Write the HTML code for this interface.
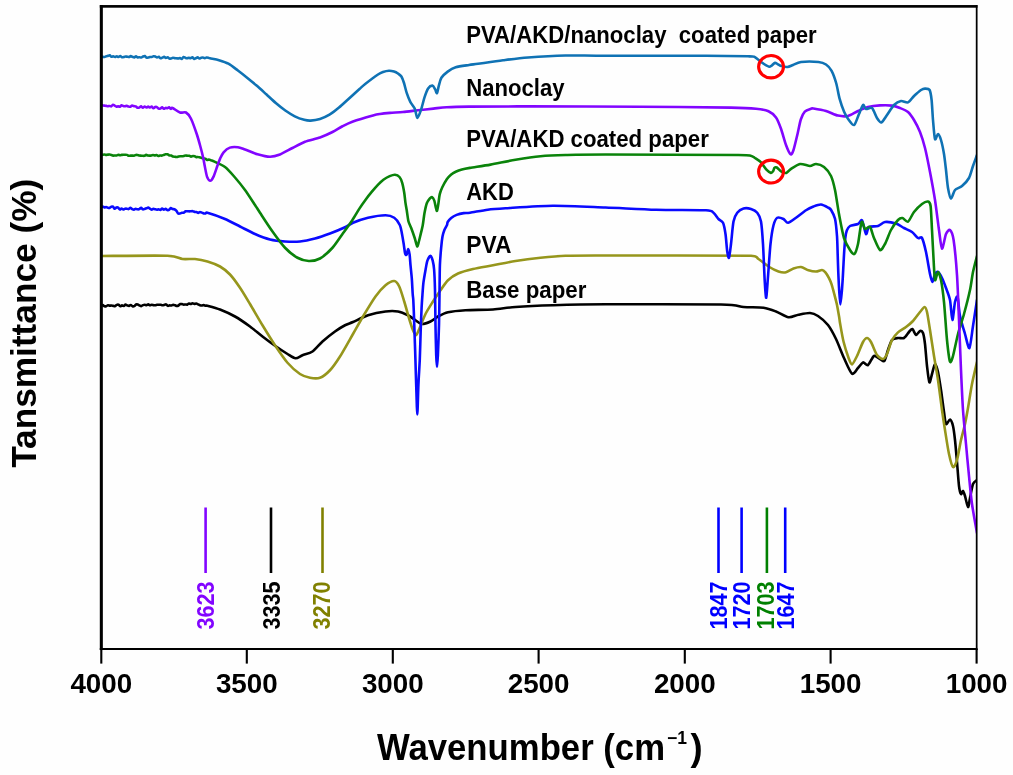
<!DOCTYPE html>
<html><head><meta charset="utf-8"><title>FTIR spectra</title>
<style>
html,body{margin:0;padding:0;background:#fefefe;}
svg{display:block;font-family:"Liberation Sans",Arial,sans-serif;font-weight:bold;}
</style></head><body>
<svg width="1013" height="775" viewBox="0 0 1013 775">
<rect width="1013" height="775" fill="#fefefe"/>
<defs><clipPath id="pc"><rect x="101.3" y="6.5" width="875.1" height="642.5"/></clipPath></defs>
<g clip-path="url(#pc)" fill="none" stroke-width="2.6" stroke-linejoin="round" stroke-linecap="round">
<path d="M101.00,305.75C101.23,305.66 102.28,305.00 102.75,305.07C103.22,305.15 104.03,306.19 104.50,306.34C104.97,306.49 105.78,306.32 106.25,306.17C106.72,306.02 107.53,305.31 108.00,305.24C108.47,305.17 109.28,305.61 109.75,305.65C110.22,305.69 111.03,305.52 111.50,305.55C111.97,305.58 112.78,305.82 113.25,305.90C113.72,305.97 114.53,306.27 115.00,306.13C115.47,305.99 116.28,305.05 116.75,304.86C117.22,304.67 118.03,304.55 118.50,304.72C118.97,304.90 119.78,306.07 120.25,306.16C120.72,306.25 121.53,305.44 122.00,305.41C122.47,305.39 123.28,306.10 123.75,305.99C124.22,305.88 125.03,304.68 125.50,304.60C125.97,304.52 126.78,305.22 127.25,305.38C127.72,305.55 128.53,305.92 129.00,305.86C129.47,305.81 130.28,304.91 130.75,304.96C131.22,305.01 132.03,306.07 132.50,306.23C132.97,306.39 133.78,306.36 134.25,306.13C134.72,305.91 135.53,304.76 136.00,304.55C136.47,304.33 137.28,304.40 137.75,304.52C138.22,304.64 139.03,305.22 139.50,305.43C139.97,305.65 140.78,306.17 141.25,306.13C141.72,306.09 142.53,305.29 143.00,305.11C143.47,304.93 144.28,304.79 144.75,304.79C145.22,304.80 146.03,305.20 146.50,305.15C146.97,305.10 147.78,304.41 148.25,304.42C148.72,304.43 149.53,305.21 150.00,305.25C150.47,305.29 151.31,304.76 151.79,304.75C152.26,304.73 153.10,305.07 153.57,305.14C154.05,305.20 154.88,305.29 155.36,305.24C155.83,305.19 156.67,304.83 157.14,304.77C157.62,304.71 158.45,304.77 158.93,304.77C159.40,304.76 160.24,304.69 160.71,304.74C161.19,304.80 162.02,305.16 162.50,305.18C162.98,305.19 163.81,304.98 164.29,304.87C164.76,304.77 165.60,304.26 166.07,304.39C166.55,304.52 167.38,305.73 167.86,305.86C168.33,305.99 169.17,305.40 169.64,305.35C170.12,305.30 170.95,305.60 171.43,305.51C171.90,305.42 172.74,304.72 173.21,304.68C173.69,304.65 174.53,305.08 175.00,305.25C175.47,305.42 176.28,305.90 176.75,305.94C177.22,305.97 178.03,305.76 178.50,305.50C178.97,305.24 179.78,304.15 180.25,303.97C180.72,303.79 181.53,304.06 182.00,304.15C182.47,304.24 183.28,304.61 183.75,304.65C184.22,304.69 185.03,304.43 185.50,304.43C185.97,304.43 186.78,304.76 187.25,304.64C187.72,304.51 188.53,303.59 189.00,303.51C189.47,303.43 190.28,304.08 190.75,304.04C191.22,304.01 192.02,303.27 192.50,303.25C192.98,303.23 193.88,303.83 194.38,303.87C194.88,303.91 195.75,303.46 196.25,303.52C196.75,303.58 197.62,304.12 198.12,304.35C198.62,304.57 199.50,305.04 200.00,305.19C200.50,305.33 201.38,305.44 201.88,305.44C202.38,305.43 203.25,305.11 203.75,305.13C204.25,305.16 205.12,305.52 205.62,305.60C206.12,305.68 205.62,305.23 207.50,305.75C209.42,306.27 216.33,308.07 220.00,309.50C223.67,310.93 231.00,314.23 235.00,316.50C239.00,318.77 246.33,323.83 250.00,326.50C253.67,329.17 259.17,333.93 262.50,336.50C265.83,339.07 271.67,343.42 275.00,345.75C278.33,348.08 284.77,352.33 287.50,354.00C290.23,355.67 293.50,358.08 295.50,358.25C297.50,358.42 300.23,356.15 302.50,355.25C304.77,354.35 309.83,353.33 312.50,351.50C315.17,349.67 319.50,344.17 322.50,341.50C325.50,338.83 332.00,333.67 335.00,331.50C338.00,329.33 342.60,326.52 345.00,325.25C347.40,323.98 349.93,323.33 353.00,322.00C356.07,320.67 363.67,316.65 368.00,315.25C372.33,313.85 381.50,312.00 385.50,311.50C389.50,311.00 395.00,311.00 398.00,311.50C401.00,312.00 405.67,314.08 408.00,315.25C410.33,316.42 413.67,319.08 415.50,320.25C417.33,321.42 419.75,323.83 421.75,324.00C423.75,324.17 428.33,322.50 430.50,321.50C432.67,320.50 435.67,317.73 438.00,316.50C440.33,315.27 444.33,313.08 448.00,312.25C451.67,311.42 459.50,310.62 465.50,310.25C471.50,309.88 486.33,309.93 493.00,309.50C499.67,309.07 507.50,307.57 515.50,307.00C523.50,306.43 541.00,305.62 553.00,305.25C565.00,304.88 583.10,304.35 605.50,304.25C627.90,304.15 702.60,304.13 721.00,304.50C739.40,304.87 737.83,306.57 743.50,307.00C749.17,307.43 759.17,307.15 763.50,307.75C767.83,308.35 772.67,310.23 776.00,311.50C779.33,312.77 785.50,316.82 788.50,317.25C791.50,317.68 795.63,315.32 798.50,314.75C801.37,314.18 807.40,312.83 810.00,313.00C812.60,313.17 815.60,314.40 818.00,316.00C820.40,317.60 825.60,321.93 828.00,325.00C830.40,328.07 833.87,334.60 836.00,339.00C838.13,343.40 841.87,353.39 844.00,358.00C846.13,362.61 850.13,372.27 852.00,373.60C853.87,374.93 856.53,369.49 858.00,368.00C859.47,366.51 861.67,362.80 863.00,362.40C864.33,362.00 866.53,365.85 868.00,365.00C869.47,364.15 872.40,356.80 874.00,356.00C875.60,355.20 878.61,358.33 880.00,359.00C881.39,359.67 883.33,362.20 884.40,361.00C885.47,359.80 886.99,352.80 888.00,350.00C889.01,347.20 890.67,341.60 892.00,340.00C893.33,338.40 896.40,338.27 898.00,338.00C899.60,337.73 902.53,338.80 904.00,338.00C905.47,337.20 907.88,333.20 909.00,332.00C910.12,330.80 911.47,328.60 912.40,329.00C913.33,329.40 914.99,334.73 916.00,335.00C917.01,335.27 919.07,331.27 920.00,331.00C920.93,330.73 922.33,331.27 923.00,333.00C923.67,334.73 924.47,339.60 925.00,344.00C925.53,348.40 926.41,360.88 927.00,366.00C927.59,371.12 928.73,381.33 929.40,382.40C930.07,383.47 931.25,376.45 932.00,374.00C932.75,371.55 934.20,364.27 935.00,364.00C935.80,363.73 937.20,368.53 938.00,372.00C938.80,375.47 940.20,384.67 941.00,390.00C941.80,395.33 943.33,407.47 944.00,412.00C944.67,416.53 945.20,422.99 946.00,424.00C946.80,425.01 949.07,419.33 950.00,419.60C950.93,419.87 952.33,423.28 953.00,426.00C953.67,428.72 954.47,435.20 955.00,440.00C955.53,444.80 956.47,455.87 957.00,462.00C957.53,468.13 958.47,481.73 959.00,486.00C959.53,490.27 960.47,493.33 961.00,494.00C961.53,494.67 962.47,490.73 963.00,491.00C963.53,491.27 964.33,493.87 965.00,496.00C965.67,498.13 967.33,506.73 968.00,507.00C968.67,507.27 969.33,501.07 970.00,498.00C970.67,494.93 972.07,486.40 973.00,484.00C973.93,481.60 976.47,480.53 977.00,480.00" stroke="#000000"/>
<path d="M101.00,256.00C109.87,255.97 156.63,255.35 167.50,255.75C178.37,256.15 178.83,258.57 182.50,259.00C186.17,259.43 191.67,258.67 195.00,259.00C198.33,259.33 204.17,260.50 207.50,261.50C210.83,262.50 217.00,264.77 220.00,266.50C223.00,268.23 227.33,271.67 230.00,274.50C232.67,277.33 237.33,283.82 240.00,287.75C242.67,291.68 247.00,299.00 250.00,304.00C253.00,309.00 259.17,319.75 262.50,325.25C265.83,330.75 271.67,340.25 275.00,345.25C278.33,350.25 284.17,358.92 287.50,362.75C290.83,366.58 297.00,372.00 300.00,374.00C303.00,376.00 307.33,377.25 310.00,377.75C312.67,378.25 317.33,378.75 320.00,377.75C322.67,376.75 327.33,373.08 330.00,370.25C332.67,367.42 336.93,361.33 340.00,356.50C343.07,351.67 349.93,339.33 353.00,334.00C356.07,328.67 360.00,321.50 363.00,316.50C366.00,311.50 372.50,300.67 375.50,296.50C378.50,292.33 383.00,287.32 385.50,285.25C388.00,283.18 392.42,280.83 394.25,281.00C396.08,281.17 397.92,283.77 399.25,286.50C400.58,289.23 402.92,297.17 404.25,301.50C405.58,305.83 408.08,315.17 409.25,319.00C410.42,322.83 412.10,328.08 413.00,330.25C413.90,332.42 415.17,335.42 416.00,335.25C416.83,335.08 417.98,331.83 419.25,329.00C420.52,326.17 423.67,317.67 425.50,314.00C427.33,310.33 431.00,304.67 433.00,301.50C435.00,298.33 438.50,293.08 440.50,290.25C442.50,287.42 445.67,282.48 448.00,280.25C450.33,278.02 454.67,275.00 458.00,273.50C461.33,272.00 468.33,270.10 473.00,269.00C477.67,267.90 487.33,266.32 493.00,265.25C498.67,264.18 509.17,262.00 515.50,261.00C521.83,260.00 533.83,258.45 540.50,257.75C547.17,257.05 556.83,256.05 565.50,255.75C574.17,255.45 580.77,255.50 605.50,255.50C630.23,255.50 730.60,255.28 751.00,255.75C758.50,256.22 756.17,257.57 758.50,259.00C760.83,260.43 765.83,264.83 768.50,266.50C771.17,268.17 776.17,270.73 778.50,271.50C780.83,272.27 784.00,272.65 786.00,272.25C788.00,271.85 791.50,269.20 793.50,268.50C795.50,267.80 799.00,266.77 801.00,267.00C803.00,267.23 806.50,269.65 808.50,270.25C810.50,270.85 814.20,271.53 816.00,271.50C817.80,271.47 820.75,269.88 822.00,270.00C823.25,270.12 824.47,271.32 825.40,272.40C826.33,273.48 828.17,276.50 829.00,278.10C829.83,279.70 830.89,282.25 831.60,284.40C832.31,286.55 833.58,291.47 834.30,294.20C835.02,296.93 836.35,301.82 837.00,304.90C837.65,307.98 838.79,314.82 839.20,317.30C839.61,319.78 839.53,320.27 840.10,323.50C840.67,326.73 842.38,336.93 843.50,341.50C844.62,346.07 847.37,354.70 848.50,357.75C849.63,360.80 850.87,364.63 852.00,364.40C853.13,364.17 855.53,358.99 857.00,356.00C858.47,353.01 861.67,344.40 863.00,342.00C864.33,339.60 865.93,338.00 867.00,338.00C868.07,338.00 869.67,339.73 871.00,342.00C872.33,344.27 875.40,352.73 877.00,355.00C878.60,357.27 881.67,359.13 883.00,359.00C884.33,358.87 885.80,356.53 887.00,354.00C888.20,351.47 890.53,342.88 892.00,340.00C893.47,337.12 896.13,334.13 898.00,332.40C899.87,330.67 904.00,328.52 906.00,327.00C908.00,325.48 911.13,323.00 913.00,321.00C914.87,319.00 918.45,313.87 920.00,312.00C921.55,310.13 923.67,307.00 924.60,307.00C925.53,307.00 926.28,308.93 927.00,312.00C927.72,315.07 929.07,324.13 930.00,330.00C930.93,335.87 932.93,349.33 934.00,356.00C935.07,362.67 936.93,372.80 938.00,380.00C939.07,387.20 941.07,403.33 942.00,410.00C942.93,416.67 944.07,424.13 945.00,430.00C945.93,435.87 947.93,449.07 949.00,454.00C950.07,458.93 951.93,466.20 953.00,467.00C954.07,467.80 955.93,463.60 957.00,460.00C958.07,456.40 959.93,444.80 961.00,440.00C962.07,435.20 964.07,428.27 965.00,424.00C965.93,419.73 967.07,413.33 968.00,408.00C968.93,402.67 970.80,390.13 972.00,384.00C973.20,377.87 976.33,364.93 977.00,362.00" stroke="#96961c"/>
<path d="M101.00,207.00C101.23,206.93 102.26,206.45 102.71,206.50C103.17,206.54 103.97,207.28 104.43,207.36C104.89,207.43 105.69,207.01 106.14,207.06C106.60,207.12 107.40,207.63 107.86,207.75C108.31,207.86 109.11,208.07 109.57,207.93C110.03,207.79 110.83,206.87 111.29,206.71C111.74,206.54 112.54,206.43 113.00,206.71C113.46,206.99 114.26,208.70 114.71,208.81C115.17,208.92 115.97,207.71 116.43,207.55C116.89,207.39 117.69,207.34 118.14,207.61C118.60,207.88 119.40,209.46 119.86,209.56C120.31,209.67 121.11,208.45 121.57,208.43C122.03,208.41 122.83,209.39 123.29,209.43C123.74,209.48 124.53,208.85 125.00,208.75C125.47,208.65 126.31,208.65 126.79,208.69C127.26,208.74 128.10,209.19 128.57,209.08C129.05,208.98 129.88,207.91 130.36,207.91C130.83,207.91 131.67,208.84 132.14,209.07C132.62,209.30 133.45,209.67 133.93,209.63C134.40,209.60 135.24,208.85 135.71,208.81C136.19,208.77 137.02,209.28 137.50,209.33C137.98,209.38 138.81,209.38 139.29,209.16C139.76,208.94 140.60,207.68 141.07,207.70C141.55,207.73 142.38,209.20 142.86,209.37C143.33,209.54 144.17,209.11 144.64,208.97C145.12,208.82 145.95,208.45 146.43,208.27C146.90,208.09 147.74,207.56 148.21,207.62C148.69,207.69 149.53,208.48 150.00,208.75C150.47,209.02 151.27,209.65 151.73,209.65C152.19,209.64 153.00,208.76 153.46,208.72C153.92,208.68 154.73,209.20 155.19,209.33C155.65,209.47 156.46,209.73 156.92,209.74C157.38,209.74 158.19,209.34 158.65,209.36C159.12,209.38 159.92,209.97 160.38,209.88C160.85,209.78 161.65,208.67 162.12,208.63C162.58,208.60 163.38,209.61 163.85,209.63C164.31,209.65 165.12,208.74 165.58,208.79C166.04,208.84 166.85,209.84 167.31,209.99C167.77,210.13 168.58,210.13 169.04,209.87C169.50,209.61 170.31,208.13 170.77,208.01C171.23,207.90 172.02,208.84 172.50,209.00C172.98,209.16 173.88,209.04 174.38,209.25C174.88,209.46 175.75,210.01 176.25,210.57C176.75,211.14 177.62,213.10 178.12,213.49C178.62,213.88 179.50,213.59 180.00,213.50C180.50,213.41 181.38,212.89 181.88,212.78C182.38,212.67 183.25,212.87 183.75,212.68C184.25,212.49 185.12,211.53 185.62,211.33C186.12,211.14 187.01,211.24 187.50,211.25C187.99,211.26 188.81,211.38 189.29,211.37C189.76,211.37 190.60,211.21 191.07,211.19C191.55,211.17 192.38,211.12 192.86,211.21C193.33,211.31 194.17,211.78 194.64,211.88C195.12,211.99 195.95,211.86 196.43,211.99C196.90,212.12 197.74,212.86 198.21,212.86C198.69,212.86 199.51,212.03 200.00,212.00C200.49,211.97 201.38,212.44 201.88,212.62C202.38,212.81 203.25,213.30 203.75,213.40C204.25,213.51 205.12,213.51 205.62,213.42C206.12,213.33 205.62,212.01 207.50,212.75C210.08,213.49 220.67,217.17 225.00,219.00C229.33,220.83 236.00,224.50 240.00,226.50C244.00,228.50 251.00,232.27 255.00,234.00C259.00,235.73 266.00,238.50 270.00,239.50C274.00,240.50 281.00,241.23 285.00,241.50C289.00,241.77 296.00,241.90 300.00,241.50C304.00,241.10 311.00,239.57 315.00,238.50C319.00,237.43 326.00,235.00 330.00,233.50C334.00,232.00 341.93,228.68 345.00,227.25C348.07,225.82 349.93,224.02 353.00,222.75C356.07,221.48 363.67,218.75 368.00,217.75C372.33,216.75 382.00,215.25 385.50,215.25C389.00,215.25 392.34,216.45 394.25,217.75C396.16,219.05 398.77,222.85 399.80,225.00C400.83,227.15 401.47,231.29 402.00,233.90C402.53,236.51 403.39,241.99 403.80,244.60C404.21,247.21 404.74,252.14 405.10,253.50C405.46,254.86 406.08,255.40 406.50,254.80C406.92,254.20 407.84,249.05 408.25,249.00C408.66,248.95 409.30,252.25 409.60,254.40C409.90,256.55 410.21,261.90 410.50,265.10C410.79,268.30 411.51,274.55 411.80,278.40C412.09,282.25 412.50,291.12 412.70,294.00C412.90,296.88 413.13,296.97 413.30,300.00C413.47,303.03 413.79,310.91 414.00,316.70C414.21,322.49 414.71,337.76 414.90,343.40C415.09,349.04 415.23,353.45 415.40,359.00C415.57,364.55 415.95,377.60 416.20,385.00C416.45,392.40 417.01,414.50 417.30,414.50C417.59,414.50 418.07,392.40 418.40,385.00C418.73,377.60 419.49,366.32 419.80,359.00C420.11,351.68 420.46,336.93 420.70,330.10C420.94,323.27 421.36,312.61 421.60,307.80C421.84,302.99 422.26,297.32 422.50,294.00C422.74,290.68 422.99,286.17 423.40,282.90C423.81,279.63 425.07,272.47 425.60,269.50C426.13,266.53 426.75,262.44 427.40,260.60C428.05,258.76 429.79,255.70 430.50,255.70C431.21,255.70 432.22,258.76 432.70,260.60C433.18,262.44 433.79,265.58 434.10,269.50C434.41,273.42 434.81,282.52 435.00,290.00C435.19,297.48 435.34,316.93 435.50,325.60C435.66,334.27 436.00,349.48 436.20,355.00C436.40,360.52 436.77,367.00 437.00,367.00C437.23,367.00 437.63,360.60 437.90,355.00C438.17,349.40 438.79,333.13 439.00,325.00C439.21,316.87 439.38,301.99 439.50,294.00C439.62,286.01 439.67,271.33 439.90,265.10C440.13,258.87 440.85,251.10 441.20,247.30C441.55,243.50 442.09,238.87 442.50,236.60C442.91,234.33 443.70,231.85 444.30,230.30C444.90,228.75 446.55,226.11 447.00,225.00C447.45,223.89 447.14,222.93 447.70,222.00C448.26,221.07 450.01,218.95 451.20,218.00C452.39,217.05 454.93,215.55 456.60,214.90C458.27,214.25 461.91,213.39 463.70,213.10C465.49,212.81 466.79,213.15 470.00,212.70C473.21,212.25 483.05,210.29 487.80,209.70C492.55,209.11 496.91,208.83 505.60,208.30C514.29,207.77 539.68,205.86 553.00,205.75C566.32,205.64 591.77,206.97 605.50,207.50C619.23,208.03 642.60,209.38 656.00,209.75C669.40,210.12 698.33,209.85 706.00,210.25C713.50,210.65 711.83,211.58 713.50,212.75C715.17,213.92 717.23,217.67 718.50,219.00C719.77,220.33 722.07,220.75 723.00,222.75C723.93,224.75 724.93,230.17 725.50,234.00C726.07,237.83 726.78,248.33 727.25,251.50C727.72,254.67 728.50,258.75 729.00,257.75C729.50,256.75 730.40,248.83 731.00,244.00C731.60,239.17 732.67,225.67 733.50,221.50C734.33,217.33 735.92,214.48 737.25,212.75C738.58,211.02 741.67,209.00 743.50,208.50C745.33,208.00 749.17,208.43 751.00,209.00C752.83,209.57 755.92,211.08 757.25,212.75C758.58,214.42 760.23,217.33 761.00,221.50C761.77,225.67 762.50,236.00 763.00,244.00C763.50,252.00 764.32,274.33 764.75,281.50C765.18,288.67 765.82,298.42 766.25,297.75C766.68,297.08 767.43,283.67 768.00,276.50C768.57,269.33 769.77,250.83 770.50,244.00C771.23,237.17 772.60,228.75 773.50,225.25C774.40,221.75 775.92,218.58 777.25,217.75C778.58,216.92 782.07,218.33 783.50,219.00C784.93,219.67 786.33,222.92 788.00,222.75C789.67,222.58 793.60,219.42 796.00,217.75C798.40,216.08 803.67,211.75 806.00,210.25C808.33,208.75 811.50,207.27 813.50,206.50C815.50,205.73 819.00,204.33 821.00,204.50C823.00,204.67 827.15,207.02 828.50,207.75C829.85,208.48 830.23,208.54 831.10,210.00C831.97,211.46 834.21,215.23 835.00,218.70C835.79,222.17 836.64,231.16 837.00,236.00C837.36,240.84 837.53,250.09 837.70,255.00C837.87,259.91 838.10,268.05 838.30,272.80C838.50,277.55 838.92,286.37 839.20,290.60C839.48,294.83 840.04,304.50 840.40,304.50C840.76,304.50 841.58,294.23 841.90,290.60C842.22,286.97 842.57,281.10 842.80,277.30C843.03,273.50 843.40,265.74 843.60,262.10C843.80,258.46 844.07,253.21 844.30,250.00C844.53,246.79 844.97,240.60 845.30,238.00C845.63,235.40 846.17,232.10 846.80,230.50C847.43,228.90 848.51,226.87 850.00,226.00C851.49,225.13 856.40,224.75 858.00,224.00C859.60,223.25 860.93,219.07 862.00,220.40C863.07,221.73 865.07,233.12 866.00,234.00C866.93,234.88 867.40,228.07 869.00,227.00C870.60,225.93 875.87,226.67 878.00,226.00C880.13,225.33 882.60,222.32 885.00,222.00C887.40,221.68 893.47,222.80 896.00,223.60C898.53,224.40 901.87,226.88 904.00,228.00C906.13,229.12 910.13,230.67 912.00,232.00C913.87,233.33 916.67,237.20 918.00,238.00C919.33,238.80 920.93,236.13 922.00,238.00C923.07,239.87 924.93,247.20 926.00,252.00C927.07,256.80 929.15,270.00 930.00,274.00C930.85,278.00 931.73,282.00 932.40,282.00C933.07,282.00 934.25,275.33 935.00,274.00C935.75,272.67 937.07,271.47 938.00,272.00C938.93,272.53 940.93,275.87 942.00,278.00C943.07,280.13 944.93,285.07 946.00,288.00C947.07,290.93 949.15,295.73 950.00,300.00C950.85,304.27 951.73,319.73 952.40,320.00C953.07,320.27 954.31,305.07 955.00,302.00C955.69,298.93 956.93,295.13 957.60,297.00C958.27,298.87 959.01,311.07 960.00,316.00C960.99,320.93 963.75,329.73 965.00,334.00C966.25,338.27 968.33,349.07 969.40,348.00C970.47,346.93 971.99,332.40 973.00,326.00C974.01,319.60 976.47,303.47 977.00,300.00" stroke="#0a0aff"/>
<path d="M101.00,155.00C101.23,154.96 102.27,154.76 102.74,154.70C103.20,154.64 104.01,154.52 104.47,154.55C104.93,154.58 105.74,154.91 106.21,154.92C106.67,154.93 107.48,154.69 107.94,154.64C108.40,154.60 109.21,154.51 109.68,154.55C110.14,154.60 110.95,154.83 111.41,154.97C111.87,155.11 112.68,155.54 113.15,155.60C113.61,155.67 114.42,155.50 114.88,155.48C115.35,155.46 116.15,155.54 116.62,155.45C117.08,155.36 117.89,154.85 118.35,154.81C118.82,154.78 119.63,155.19 120.09,155.21C120.55,155.22 121.36,154.96 121.82,154.91C122.29,154.85 123.10,154.82 123.56,154.80C124.02,154.78 124.83,154.72 125.29,154.73C125.76,154.74 126.57,154.74 127.03,154.88C127.49,155.01 128.30,155.65 128.76,155.75C129.23,155.85 130.04,155.66 130.50,155.64C130.96,155.63 131.77,155.63 132.24,155.63C132.70,155.63 133.51,155.73 133.97,155.64C134.43,155.55 135.24,155.00 135.71,154.93C136.17,154.85 136.98,155.01 137.44,155.08C137.90,155.15 138.71,155.40 139.18,155.48C139.64,155.55 140.45,155.58 140.91,155.62C141.37,155.66 142.18,155.75 142.65,155.78C143.11,155.81 143.92,155.94 144.38,155.82C144.85,155.70 145.65,154.93 146.12,154.89C146.58,154.85 147.39,155.43 147.85,155.52C148.32,155.62 149.13,155.63 149.59,155.62C150.05,155.61 150.86,155.51 151.32,155.43C151.79,155.36 152.60,155.06 153.06,155.05C153.52,155.05 154.33,155.43 154.79,155.42C155.26,155.41 156.07,154.90 156.53,154.98C156.99,155.06 157.80,155.94 158.26,156.01C158.73,156.08 159.52,155.55 160.00,155.50C160.48,155.45 161.38,155.70 161.88,155.63C162.38,155.55 163.25,155.11 163.75,154.93C164.25,154.76 165.12,154.41 165.62,154.32C166.12,154.23 167.00,154.11 167.50,154.25C168.00,154.39 168.88,155.19 169.38,155.37C169.88,155.54 170.75,155.42 171.25,155.59C171.75,155.75 172.62,156.43 173.12,156.58C173.62,156.74 174.51,156.69 175.00,156.75C175.49,156.81 176.31,157.06 176.79,157.02C177.26,156.99 178.10,156.58 178.57,156.47C179.05,156.37 179.88,156.24 180.36,156.22C180.83,156.19 181.67,156.33 182.14,156.30C182.62,156.26 183.45,156.06 183.93,155.95C184.40,155.84 185.24,155.51 185.71,155.49C186.19,155.46 187.02,155.71 187.50,155.75C187.98,155.79 188.81,155.65 189.29,155.77C189.76,155.88 190.60,156.60 191.07,156.63C191.55,156.65 192.38,156.01 192.86,155.95C193.33,155.90 194.17,156.05 194.64,156.21C195.12,156.37 195.95,157.05 196.43,157.15C196.90,157.26 197.74,156.94 198.21,156.99C198.69,157.03 199.52,157.36 200.00,157.50C200.48,157.64 201.31,157.89 201.79,158.01C202.26,158.13 203.10,158.30 203.57,158.39C204.05,158.49 204.88,158.50 205.36,158.70C205.83,158.91 206.67,159.85 207.14,159.95C207.62,160.05 208.45,159.43 208.93,159.46C209.40,159.49 210.24,160.01 210.71,160.18C211.19,160.35 210.71,159.84 212.50,160.75C214.40,161.66 222.00,164.77 225.00,167.00C228.00,169.23 232.33,174.43 235.00,177.50C237.67,180.57 242.33,186.33 245.00,190.00C247.67,193.67 253.00,201.97 255.00,205.00C257.00,208.03 257.67,209.22 260.00,212.75C262.33,216.28 269.17,226.83 272.50,231.50C275.83,236.17 281.67,244.25 285.00,247.75C288.33,251.25 294.33,255.98 297.50,257.75C300.67,259.52 305.75,260.90 308.75,261.00C311.75,261.10 316.83,260.27 320.00,258.50C323.17,256.73 329.50,251.02 332.50,247.75C335.50,244.48 339.86,237.67 342.50,234.00C345.14,230.33 350.05,223.59 352.30,220.20C354.55,216.81 357.63,211.33 359.40,208.60C361.17,205.87 363.93,201.95 365.60,199.70C367.27,197.45 370.23,193.71 371.90,191.70C373.57,189.69 376.57,186.20 378.10,184.60C379.63,183.00 381.85,180.83 383.40,179.70C384.95,178.57 388.15,176.77 389.70,176.10C391.25,175.43 393.69,174.58 395.00,174.70C396.31,174.82 398.54,175.92 399.50,177.00C400.46,178.08 401.57,180.73 402.20,182.80C402.83,184.87 403.77,189.89 404.20,192.50C404.63,195.11 405.07,200.07 405.40,202.40C405.73,204.73 406.29,207.45 406.70,210.00C407.11,212.55 407.90,219.10 408.50,221.50C409.10,223.90 410.37,225.80 411.20,228.00C412.03,230.20 413.90,235.55 414.70,238.00C415.50,240.45 416.63,246.00 417.20,246.40C417.77,246.80 418.59,242.43 419.00,241.00C419.41,239.57 419.81,237.77 420.30,235.70C420.79,233.63 422.14,228.51 422.70,225.50C423.26,222.49 423.95,216.06 424.50,213.10C425.05,210.14 426.08,205.26 426.80,203.30C427.52,201.34 429.19,199.23 429.90,198.40C430.61,197.57 431.51,196.81 432.10,197.10C432.69,197.39 433.82,199.29 434.30,200.60C434.78,201.91 435.34,205.53 435.70,206.90C436.06,208.27 436.65,211.26 437.00,210.90C437.35,210.54 437.94,206.40 438.30,204.20C438.66,202.00 439.17,196.65 439.70,194.40C440.23,192.15 441.35,189.33 442.30,187.30C443.25,185.27 445.61,180.92 446.80,179.20C447.99,177.48 450.01,175.40 451.20,174.40C452.39,173.40 454.27,172.35 455.70,171.70C457.13,171.05 460.01,170.01 461.90,169.50C463.79,168.99 466.09,168.55 469.90,167.90C473.71,167.25 484.42,165.68 490.50,164.60C496.58,163.52 508.83,160.91 515.50,159.80C522.17,158.69 533.83,156.89 540.50,156.25C547.17,155.61 556.83,155.23 565.50,155.00C574.17,154.77 582.43,154.50 605.50,154.50C628.57,154.50 719.14,154.84 738.50,155.00C750.70,155.16 748.50,155.30 750.70,155.70C752.90,156.10 753.65,157.13 755.00,158.00C756.35,158.87 759.24,160.61 760.80,162.20C762.36,163.79 765.35,168.47 766.70,169.90C768.05,171.33 770.03,172.74 770.90,172.90C771.77,173.06 772.73,171.77 773.20,171.10C773.67,170.43 773.92,168.33 774.40,167.85C774.88,167.37 775.85,166.99 776.80,167.50C777.75,168.01 780.23,170.98 781.50,171.70C782.77,172.42 785.11,173.22 786.30,172.90C787.49,172.58 788.57,170.49 790.40,169.30C792.23,168.11 797.39,164.44 800.00,164.00C802.61,163.56 807.87,166.00 810.00,166.00C812.13,166.00 814.13,163.87 816.00,164.00C817.87,164.13 822.00,165.40 824.00,167.00C826.00,168.60 829.53,172.93 831.00,176.00C832.47,179.07 833.93,184.93 835.00,190.00C836.07,195.07 837.80,207.60 839.00,214.00C840.20,220.40 842.53,233.20 844.00,238.00C845.47,242.80 848.61,247.87 850.00,250.00C851.39,252.13 853.33,254.80 854.40,254.00C855.47,253.20 857.04,248.27 858.00,244.00C858.96,239.73 860.67,224.00 861.60,222.00C862.53,220.00 863.88,228.33 865.00,229.00C866.12,229.67 868.80,225.80 870.00,227.00C871.20,228.20 872.67,234.93 874.00,238.00C875.33,241.07 878.53,249.20 880.00,250.00C881.47,250.80 883.53,246.67 885.00,244.00C886.47,241.33 889.27,233.20 891.00,230.00C892.73,226.80 896.48,221.60 898.00,220.00C899.52,218.40 901.07,217.79 902.40,218.00C903.73,218.21 906.45,222.40 908.00,221.60C909.55,220.80 912.13,214.35 914.00,212.00C915.87,209.65 920.13,205.39 922.00,204.00C923.87,202.61 926.85,201.33 928.00,201.60C929.15,201.87 930.07,202.21 930.60,206.00C931.13,209.79 931.60,222.80 932.00,230.00C932.40,237.20 933.20,253.33 933.60,260.00C934.00,266.67 934.41,278.40 935.00,280.00C935.59,281.60 937.20,272.00 938.00,272.00C938.80,272.00 940.20,276.00 941.00,280.00C941.80,284.00 943.20,294.00 944.00,302.00C944.80,310.00 946.20,332.05 947.00,340.00C947.80,347.95 949.20,359.47 950.00,361.60C950.80,363.73 951.93,359.68 953.00,356.00C954.07,352.32 956.53,339.60 958.00,334.00C959.47,328.40 962.40,319.87 964.00,314.00C965.60,308.13 968.80,295.60 970.00,290.00C971.20,284.40 972.07,276.53 973.00,272.00C973.93,267.47 976.47,258.13 977.00,256.00" stroke="#0a830a"/>
<path d="M101.00,105.00C101.23,105.04 102.26,105.25 102.71,105.34C103.17,105.42 103.97,105.59 104.43,105.66C104.89,105.73 105.69,105.78 106.14,105.86C106.60,105.94 107.40,106.23 107.86,106.24C108.31,106.25 109.11,105.91 109.57,105.93C110.03,105.94 110.83,106.55 111.29,106.38C111.74,106.21 112.54,104.78 113.00,104.68C113.46,104.59 114.26,105.38 114.71,105.65C115.17,105.91 115.97,106.62 116.43,106.69C116.89,106.76 117.69,106.18 118.14,106.19C118.60,106.20 119.40,106.90 119.86,106.78C120.31,106.66 121.11,105.39 121.57,105.30C122.03,105.21 122.83,105.97 123.29,106.10C123.74,106.23 124.53,106.29 125.00,106.25C125.47,106.21 126.31,105.80 126.79,105.83C127.26,105.87 128.10,106.40 128.57,106.52C129.05,106.63 129.88,106.78 130.36,106.67C130.83,106.55 131.67,105.70 132.14,105.63C132.62,105.56 133.45,106.04 133.93,106.13C134.40,106.22 135.24,106.13 135.71,106.34C136.19,106.56 137.02,107.55 137.50,107.71C137.98,107.86 138.81,107.67 139.29,107.50C139.76,107.32 140.60,106.34 141.07,106.37C141.55,106.40 142.38,107.72 142.86,107.74C143.33,107.76 144.17,106.53 144.64,106.51C145.12,106.49 145.95,107.54 146.43,107.56C146.90,107.58 147.74,106.67 148.21,106.66C148.69,106.66 149.53,107.52 150.00,107.50C150.47,107.48 151.27,106.43 151.73,106.54C152.19,106.65 153.00,108.25 153.46,108.32C153.92,108.39 154.73,107.20 155.19,107.03C155.65,106.87 156.46,106.87 156.92,107.08C157.38,107.30 158.19,108.47 158.65,108.66C159.12,108.84 159.92,108.65 160.38,108.48C160.85,108.30 161.65,107.31 162.12,107.35C162.58,107.38 163.38,108.65 163.85,108.73C164.31,108.81 165.12,107.99 165.58,107.92C166.04,107.86 166.85,108.32 167.31,108.24C167.77,108.16 168.58,107.25 169.04,107.33C169.50,107.41 170.31,108.75 170.77,108.84C171.23,108.93 171.27,107.51 172.50,108.00C173.73,108.49 178.20,111.90 180.00,112.50C181.80,113.10 184.53,111.67 186.00,112.50C187.47,113.33 189.55,115.82 191.00,118.75C192.45,121.68 195.63,130.73 196.90,134.50C198.17,138.27 199.66,143.91 200.50,147.00C201.34,150.09 202.64,155.19 203.20,157.70C203.76,160.21 204.18,163.24 204.70,165.80C205.22,168.36 206.35,174.90 207.10,176.90C207.85,178.90 209.46,180.80 210.30,180.80C211.14,180.80 212.45,178.90 213.40,176.90C214.35,174.90 216.51,168.24 217.40,165.80C218.29,163.36 219.27,160.40 220.10,158.60C220.93,156.80 222.29,153.77 223.60,152.30C224.91,150.83 227.99,148.28 229.90,147.60C231.81,146.92 235.89,146.95 237.90,147.20C239.91,147.45 242.39,148.56 245.00,149.50C247.61,150.44 254.17,153.28 257.50,154.25C260.83,155.22 267.00,156.72 270.00,156.75C273.00,156.78 277.00,155.67 280.00,154.50C283.00,153.33 289.17,149.70 292.50,148.00C295.83,146.30 301.33,143.15 305.00,141.75C308.67,140.35 316.33,138.80 320.00,137.50C323.67,136.20 329.50,133.50 332.50,132.00C335.50,130.50 339.77,127.65 342.50,126.25C345.23,124.85 348.93,122.93 353.00,121.50C357.07,120.07 369.40,116.50 373.00,115.50C376.60,114.50 377.73,114.35 380.00,114.00C382.27,113.65 386.93,113.17 390.00,112.90C393.07,112.63 399.27,112.35 403.00,112.00C406.73,111.65 413.95,110.75 418.00,110.30C422.05,109.85 429.56,109.01 433.40,108.60C437.24,108.19 442.05,107.47 446.80,107.20C451.55,106.93 458.17,106.71 469.00,106.60C479.83,106.49 505.20,106.39 528.00,106.40C550.80,106.41 612.93,106.54 640.00,106.70C667.07,106.86 715.53,107.33 731.00,107.60C746.47,107.87 751.00,108.26 756.00,108.75C761.00,109.24 765.83,110.08 768.50,111.25C771.17,112.42 774.33,115.17 776.00,117.50C777.67,119.83 779.67,125.08 781.00,128.75C782.33,132.42 784.73,141.60 786.00,145.00C787.27,148.40 789.50,153.58 790.50,154.25C791.50,154.92 792.54,152.81 793.50,150.00C794.46,147.19 796.73,137.27 797.70,133.20C798.67,129.13 799.85,122.38 800.80,119.50C801.75,116.62 803.43,113.04 804.80,111.60C806.17,110.16 809.94,109.11 811.10,108.70C812.26,108.29 811.51,108.19 813.50,108.50C815.49,108.81 822.73,110.05 826.00,111.00C829.27,111.95 835.07,114.93 838.00,115.60C840.93,116.27 845.33,116.61 848.00,116.00C850.67,115.39 855.33,112.20 858.00,111.00C860.67,109.80 865.07,107.75 868.00,107.00C870.93,106.25 876.80,105.59 880.00,105.40C883.20,105.21 889.33,105.25 892.00,105.60C894.67,105.95 897.87,107.15 900.00,108.00C902.13,108.85 906.13,110.40 908.00,112.00C909.87,113.60 912.40,117.33 914.00,120.00C915.60,122.67 918.53,128.27 920.00,132.00C921.47,135.73 923.67,142.67 925.00,148.00C926.33,153.33 928.67,165.07 930.00,172.00C931.33,178.93 933.80,192.27 935.00,200.00C936.20,207.73 938.07,223.52 939.00,230.00C939.93,236.48 941.07,248.07 942.00,248.60C942.93,249.13 944.93,236.48 946.00,234.00C947.07,231.52 948.99,229.20 950.00,230.00C951.01,230.80 952.67,234.00 953.60,240.00C954.53,246.00 956.28,264.33 957.00,275.00C957.72,285.67 958.47,307.33 959.00,320.00C959.53,332.67 960.47,358.00 961.00,370.00C961.53,382.00 962.33,400.13 963.00,410.00C963.67,419.87 965.20,435.20 966.00,444.00C966.80,452.80 968.20,468.00 969.00,476.00C969.80,484.00 970.93,496.40 972.00,504.00C973.07,511.60 976.33,529.13 977.00,533.00" stroke="#8205ff"/>
<path d="M101.00,56.25C101.23,56.33 102.28,56.77 102.75,56.86C103.22,56.96 104.03,57.02 104.50,56.95C104.97,56.87 105.78,56.44 106.25,56.30C106.72,56.16 107.53,56.00 108.00,55.88C108.47,55.76 109.28,55.27 109.75,55.38C110.22,55.50 111.03,56.60 111.50,56.74C111.97,56.87 112.78,56.35 113.25,56.38C113.72,56.41 114.53,57.00 115.00,56.98C115.47,56.96 116.28,56.23 116.75,56.24C117.22,56.25 118.03,57.08 118.50,57.06C118.97,57.04 119.78,56.07 120.25,56.09C120.72,56.11 121.53,57.05 122.00,57.18C122.47,57.30 123.28,57.15 123.75,57.06C124.22,56.96 125.03,56.50 125.50,56.45C125.97,56.41 126.78,56.65 127.25,56.73C127.72,56.81 128.53,57.13 129.00,57.04C129.47,56.96 130.28,56.12 130.75,56.09C131.22,56.06 132.03,56.67 132.50,56.84C132.97,57.01 133.78,57.44 134.25,57.37C134.72,57.30 135.53,56.31 136.00,56.32C136.47,56.32 137.28,57.30 137.75,57.42C138.22,57.54 139.03,57.19 139.50,57.21C139.97,57.23 140.78,57.64 141.25,57.55C141.72,57.47 142.53,56.76 143.00,56.56C143.47,56.37 144.28,55.97 144.75,56.11C145.22,56.24 146.03,57.35 146.50,57.55C146.97,57.74 147.78,57.66 148.25,57.58C148.72,57.51 149.53,57.08 150.00,57.00C150.47,56.92 151.29,57.04 151.76,56.95C152.24,56.86 153.06,56.36 153.53,56.31C154.00,56.25 154.82,56.41 155.29,56.57C155.76,56.73 156.59,57.46 157.06,57.51C157.53,57.55 158.35,56.78 158.82,56.88C159.29,56.98 160.12,58.16 160.59,58.26C161.06,58.35 161.88,57.77 162.35,57.59C162.82,57.40 163.65,56.84 164.12,56.87C164.59,56.91 165.41,57.78 165.88,57.84C166.35,57.90 167.18,57.22 167.65,57.31C168.12,57.40 168.94,58.35 169.41,58.51C169.88,58.67 170.71,58.62 171.18,58.52C171.65,58.43 172.47,57.85 172.94,57.79C173.41,57.74 174.24,58.05 174.71,58.11C175.18,58.18 176.00,58.22 176.47,58.28C176.94,58.34 177.76,58.59 178.24,58.55C178.71,58.52 179.53,57.94 180.00,58.00C180.47,58.06 181.29,59.09 181.76,58.97C182.24,58.85 183.06,57.25 183.53,57.09C184.00,56.93 184.82,57.61 185.29,57.77C185.76,57.92 186.59,58.27 187.06,58.26C187.53,58.25 188.35,57.68 188.82,57.68C189.29,57.68 190.12,58.32 190.59,58.27C191.06,58.21 191.88,57.20 192.35,57.28C192.82,57.36 193.65,58.76 194.12,58.88C194.59,59.00 195.41,58.38 195.88,58.18C196.35,57.98 197.18,57.34 197.65,57.38C198.12,57.42 198.94,58.43 199.41,58.49C199.88,58.54 200.71,57.92 201.18,57.80C201.65,57.68 202.47,57.53 202.94,57.58C203.41,57.63 204.24,58.18 204.71,58.17C205.18,58.16 206.00,57.57 206.47,57.50C206.94,57.43 207.76,57.55 208.24,57.66C208.71,57.76 208.56,57.91 210.00,58.25C211.44,58.59 216.55,59.47 219.00,60.20C221.45,60.93 225.88,62.33 228.40,63.70C230.92,65.07 235.37,68.61 237.90,70.50C240.43,72.39 244.87,75.86 247.40,77.90C249.93,79.94 254.38,83.61 256.90,85.80C259.42,87.99 263.78,92.01 266.30,94.30C268.82,96.59 273.27,100.84 275.80,103.00C278.33,105.16 282.77,108.73 285.30,110.50C287.83,112.27 292.28,115.06 294.80,116.30C297.32,117.54 302.09,119.23 304.20,119.80C306.31,120.37 308.49,120.71 310.60,120.60C312.71,120.49 317.48,119.79 320.00,119.00C322.52,118.21 326.97,116.22 329.50,114.70C332.03,113.18 336.47,109.69 339.00,107.60C341.53,105.51 345.77,101.48 348.50,99.00C351.23,96.52 357.23,91.03 359.50,89.00C361.77,86.97 363.03,85.68 365.50,83.75C367.97,81.82 375.67,76.07 378.00,74.50C380.33,72.93 381.55,72.51 383.00,72.00C384.45,71.49 387.43,70.77 388.90,70.70C390.37,70.63 392.79,71.13 394.00,71.50C395.21,71.87 397.01,72.83 398.00,73.50C398.99,74.17 400.60,75.23 401.40,76.50C402.20,77.77 403.29,80.81 404.00,83.00C404.71,85.19 405.86,90.38 406.70,92.90C407.54,95.42 409.23,99.82 410.30,101.90C411.37,103.98 413.75,106.35 414.70,108.50C415.65,110.65 416.56,117.81 417.40,118.00C418.24,118.19 420.05,112.65 421.00,109.90C421.95,107.15 423.55,100.25 424.50,97.40C425.45,94.55 427.03,90.07 428.10,88.50C429.17,86.93 431.55,85.48 432.50,85.60C433.45,85.72 434.60,88.39 435.20,89.40C435.80,90.41 436.52,93.68 437.00,93.20C437.48,92.72 438.21,87.85 438.80,85.80C439.39,83.75 440.21,79.69 441.40,77.80C442.59,75.91 445.79,73.00 447.70,71.60C449.61,70.20 452.86,68.18 455.70,67.30C458.54,66.42 466.03,65.47 469.00,65.00C471.97,64.53 473.47,64.43 478.00,63.80C482.53,63.17 496.33,61.14 503.00,60.30C509.67,59.46 519.67,58.14 528.00,57.50C536.33,56.86 555.17,55.73 565.50,55.50C575.83,55.27 586.77,55.72 605.50,55.75C624.23,55.78 687.00,55.68 706.00,55.75C725.00,55.82 741.57,56.16 748.00,56.30C754.20,56.44 752.87,56.37 754.20,56.80C755.53,57.23 756.69,58.54 758.00,59.50C759.31,60.46 762.52,63.04 764.00,64.00C765.48,64.96 768.03,66.53 769.10,66.70C770.17,66.87 771.21,65.81 772.00,65.30C772.79,64.79 774.20,62.98 775.00,62.85C775.80,62.72 777.13,63.87 778.00,64.30C778.87,64.73 780.23,65.74 781.50,66.10C782.77,66.46 785.97,67.15 787.50,67.00C789.03,66.85 791.20,65.67 793.00,65.00C794.80,64.33 797.60,62.40 801.00,62.00C804.40,61.60 815.17,61.67 818.50,62.00C821.83,62.33 824.25,63.33 826.00,64.50C827.75,65.67 830.23,68.27 831.60,70.80C832.97,73.33 835.25,79.82 836.30,83.50C837.35,87.18 838.45,94.60 839.50,98.40C840.55,102.20 842.93,109.08 844.20,112.00C845.47,114.92 847.67,118.57 849.00,120.30C850.33,122.03 852.87,125.84 854.20,125.00C855.53,124.16 857.83,116.67 859.00,114.00C860.17,111.33 862.07,105.67 863.00,105.00C863.93,104.33 864.80,108.60 866.00,109.00C867.20,109.40 870.53,106.80 872.00,108.00C873.47,109.20 875.75,116.08 877.00,118.00C878.25,119.92 880.07,122.80 881.40,122.40C882.73,122.00 885.32,117.32 887.00,115.00C888.68,112.68 892.13,106.87 894.00,105.00C895.87,103.13 899.13,101.35 901.00,101.00C902.87,100.65 906.27,103.07 908.00,102.40C909.73,101.73 912.27,97.65 914.00,96.00C915.73,94.35 919.53,90.99 921.00,90.00C922.47,89.01 923.85,88.60 925.00,88.60C926.15,88.60 928.72,88.48 929.60,90.00C930.48,91.52 931.15,96.00 931.60,100.00C932.05,104.00 932.55,114.80 933.00,120.00C933.45,125.20 934.33,137.13 935.00,139.00C935.67,140.87 937.20,133.87 938.00,134.00C938.80,134.13 940.20,137.33 941.00,140.00C941.80,142.67 943.33,150.00 944.00,154.00C944.67,158.00 945.47,165.47 946.00,170.00C946.53,174.53 947.33,184.19 948.00,188.00C948.67,191.81 950.07,198.33 951.00,198.60C951.93,198.87 953.53,191.68 955.00,190.00C956.47,188.32 960.13,187.60 962.00,186.00C963.87,184.40 967.53,180.67 969.00,178.00C970.47,175.33 971.93,169.07 973.00,166.00C974.07,162.93 976.47,156.47 977.00,155.00" stroke="#0f72b4"/>
</g>
<g fill="none" stroke="#ff0000" stroke-width="3.1"><ellipse cx="771.05" cy="66.7" rx="12.45" ry="11.2"/><ellipse cx="771.05" cy="171.6" rx="12.45" ry="11.45"/></g>
<g fill="#000">
<rect x="99.8" y="5.05" width="3.05" height="645"/>
<rect x="99.8" y="5.05" width="877.7" height="2.65"/>
<rect x="975.8" y="5.05" width="1.75" height="645"/>
<rect x="99.8" y="648" width="877.7" height="2"/>
<rect x="100.25" y="649" width="2.1" height="14.6"/><rect x="245.75" y="649" width="2.1" height="14.6"/><rect x="391.75" y="649" width="2.1" height="14.6"/><rect x="537.55" y="649" width="2.1" height="14.6"/><rect x="683.75" y="649" width="2.1" height="14.6"/><rect x="829.55" y="649" width="2.1" height="14.6"/><rect x="975.55" y="649" width="2.1" height="14.6"/>
</g>
<g fill="#000"><text x="101.3" y="693" text-anchor="middle" font-size="27.8">4000</text><text x="246.8" y="693" text-anchor="middle" font-size="27.8">3500</text><text x="392.8" y="693" text-anchor="middle" font-size="27.8">3000</text><text x="538.6" y="693" text-anchor="middle" font-size="27.8">2500</text><text x="684.8" y="693" text-anchor="middle" font-size="27.8">2000</text><text x="830.6" y="693" text-anchor="middle" font-size="27.8">1500</text><text x="976.6" y="693" text-anchor="middle" font-size="27.8">1000</text></g>
<g fill="#000"><text x="466.2" y="43.0" font-size="23.2" textLength="350.5" lengthAdjust="spacingAndGlyphs">PVA/AKD/nanoclay  coated paper</text><text x="466.2" y="95.8" font-size="23.2" textLength="98.4" lengthAdjust="spacingAndGlyphs">Nanoclay</text><text x="466.2" y="146.6" font-size="23.2" textLength="242.6" lengthAdjust="spacingAndGlyphs">PVA/AKD coated paper</text><text x="466.2" y="200.3" font-size="23.2" textLength="47.6" lengthAdjust="spacingAndGlyphs">AKD</text><text x="466.2" y="253.0" font-size="23.2" textLength="45.2" lengthAdjust="spacingAndGlyphs">PVA</text><text x="466.2" y="297.5" font-size="23.2" textLength="120.2" lengthAdjust="spacingAndGlyphs">Base paper</text></g>
<line x1="205.6" y1="507.5" x2="205.6" y2="573" stroke="#8205ff" stroke-width="2.6"/><text transform="translate(214.1,629.6) rotate(-90)" font-size="23.4" fill="#8205ff" textLength="48" lengthAdjust="spacingAndGlyphs">3623</text><line x1="271" y1="507.5" x2="271" y2="573" stroke="#000" stroke-width="2.6"/><text transform="translate(279.7,629.6) rotate(-90)" font-size="23.4" fill="#000" textLength="48" lengthAdjust="spacingAndGlyphs">3335</text><line x1="322.5" y1="507.5" x2="322.5" y2="573" stroke="#808000" stroke-width="2.6"/><text transform="translate(330.3,629.6) rotate(-90)" font-size="23.4" fill="#808000" textLength="48" lengthAdjust="spacingAndGlyphs">3270</text><line x1="718.5" y1="507.5" x2="718.5" y2="573" stroke="#0000ff" stroke-width="2.6"/><text transform="translate(726.5,629.6) rotate(-90)" font-size="23.4" fill="#0000ff" textLength="48" lengthAdjust="spacingAndGlyphs">1847</text><line x1="741.6" y1="507.5" x2="741.6" y2="573" stroke="#0000ff" stroke-width="2.6"/><text transform="translate(750.0,629.6) rotate(-90)" font-size="23.4" fill="#0000ff" textLength="48" lengthAdjust="spacingAndGlyphs">1720</text><line x1="766.9" y1="507.5" x2="766.9" y2="573" stroke="#008000" stroke-width="2.6"/><text transform="translate(773.9,629.6) rotate(-90)" font-size="23.4" fill="#008000" textLength="48" lengthAdjust="spacingAndGlyphs">1703</text><line x1="785.2" y1="507.5" x2="785.2" y2="573" stroke="#0000ff" stroke-width="2.6"/><text transform="translate(793.7,629.6) rotate(-90)" font-size="23.4" fill="#0000ff" textLength="48" lengthAdjust="spacingAndGlyphs">1647</text>
<text x="377.0" y="759.9" font-size="36.4" fill="#000"><tspan textLength="288" lengthAdjust="spacingAndGlyphs">Wavenumber (cm</tspan><tspan dx="2" dy="-16.3" font-size="17.5">−1</tspan><tspan dx="3.5" dy="16.3">)</tspan></text>
<text transform="translate(36.4,467.8) rotate(-90)" font-size="35.2" fill="#000" textLength="289" lengthAdjust="spacingAndGlyphs">Tansmittance (%)</text>
</svg>
</body></html>
